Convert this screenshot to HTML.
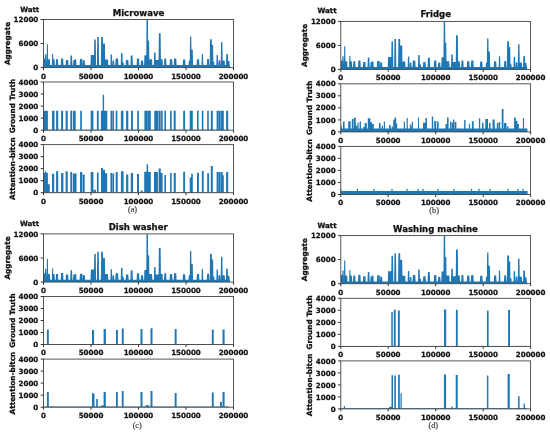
<!DOCTYPE html>
<html><head><meta charset="utf-8"><title>Figure</title>
<style>
html,body{margin:0;padding:0;background:#fff;}
svg{display:block;}
.t{font-family:"DejaVu Sans","Liberation Sans",sans-serif;font-weight:bold;font-size:7.1px;fill:#111;stroke:#111;stroke-width:0.25px;}
.ti{font-family:"DejaVu Sans","Liberation Sans",sans-serif;font-weight:bold;font-size:8.55px;fill:#111;stroke:#111;stroke-width:0.25px;}
.l{font-family:"Liberation Serif","DejaVu Serif",serif;font-size:8.2px;fill:#333;stroke:#333;stroke-width:0.15px;}
</style></head><body>
<svg width="550" height="437" viewBox="0 0 550 437">
<rect width="550" height="437" fill="#fff"/>
<g>
<path fill="#1f77b4" d="M43.6 67.6V65.1H230.0V67.6ZM43.40 65.4L43.75 58.6H46.45L46.80 65.4ZM44.80 67.6L45.10 54.2H46.30L46.60 67.6ZM46.60 67.6L46.88 44.2H47.92L48.20 67.6ZM47.70 65.4L48.05 59.3H49.85L50.20 65.4ZM51.80 67.6L52.08 53.7H53.12L53.40 67.6ZM52.60 65.4L52.95 59.3H54.55L54.90 65.4ZM55.70 65.4L56.05 59.3H57.95L58.30 65.4ZM60.70 65.4L61.05 58.4H63.15L63.50 65.4ZM65.60 65.4L65.95 59.9H68.15L68.50 65.4ZM70.20 65.4L70.55 55.6H72.05L72.40 65.4ZM73.00 65.4L73.35 59.9H76.15L76.50 65.4ZM74.60 65.4L74.95 59.3H76.15L76.50 65.4ZM79.60 65.4L79.95 59.0H82.35L82.70 65.4ZM82.70 65.4L83.05 60.3H84.75L85.10 65.4ZM90.50 65.4L90.85 55.0H94.35L94.70 65.4ZM93.90 67.6L94.24 39.5H95.76L96.10 67.6ZM96.90 67.6L97.24 37.1H98.76L99.10 67.6ZM100.80 67.6L101.17 37.1H102.93L103.30 67.6ZM102.70 67.6L103.08 43.5H104.92L105.30 67.6ZM104.50 65.4L104.85 59.4H107.95L108.30 65.4ZM110.40 67.6L110.71 54.6H111.99L112.30 67.6ZM112.30 65.4L112.65 60.6H114.05L114.40 65.4ZM115.30 65.4L115.65 58.6H118.05L118.40 65.4ZM120.70 67.6L121.03 53.1H122.47L122.80 67.6ZM122.00 65.4L122.35 62.4H123.65L124.00 65.4ZM125.70 65.4L126.05 59.9H128.35L128.70 65.4ZM130.40 65.4L130.75 55.6H132.55L132.90 65.4ZM136.60 65.4L136.95 58.6H139.05L139.40 65.4ZM140.70 65.4L141.05 60.5H143.05L143.40 65.4ZM144.00 67.6L144.39 55.3H146.31L146.70 67.6ZM146.20 67.6L146.53 19.7H147.97L148.30 67.6ZM147.70 67.6L147.99 40.7H149.11L149.40 67.6ZM148.60 65.4L148.95 59.3H152.05L152.40 65.4ZM153.80 67.6L154.13 52.5H155.57L155.90 67.6ZM155.10 65.4L155.45 59.9H158.85L159.20 65.4ZM158.50 67.6L158.87 33.3H160.63L161.00 67.6ZM160.30 65.4L160.65 59.3H162.55L162.90 65.4ZM164.00 65.4L164.35 58.6H166.15L166.50 65.4ZM169.60 65.4L169.95 59.3H172.15L172.50 65.4ZM173.70 65.4L174.05 58.6H176.25L176.60 65.4ZM182.70 65.4L183.05 59.5H185.15L185.50 65.4ZM188.50 65.4L188.85 60.5H190.15L190.50 65.4ZM189.70 67.6L190.01 36.4H191.29L191.60 67.6ZM191.00 67.6L191.33 49.4H192.77L193.10 67.6ZM196.60 65.4L196.95 59.3H199.05L199.40 65.4ZM201.50 67.6L201.80 54.3H203.00L203.30 67.6ZM206.80 65.4L207.15 59.0H208.95L209.30 65.4ZM209.70 67.6L210.07 39.2H211.83L212.20 67.6ZM211.60 67.6L211.90 45.0H213.10L213.40 67.6ZM212.60 65.4L212.95 61.7H214.15L214.50 65.4ZM216.30 67.6L216.61 54.9H217.89L218.20 67.6ZM218.30 65.4L218.65 60.3H220.25L220.60 65.4ZM220.70 67.6L221.02 42.2H222.38L222.70 67.6ZM221.90 65.4L222.25 60.5H224.65L225.00 65.4ZM225.90 67.6L226.25 54.1H227.85L228.20 67.6ZM227.40 65.4L227.75 61.0H229.35L229.70 65.4Z"/>
<rect x="43.5" y="19.5" width="190.0" height="48.1" fill="none" stroke="#444" stroke-width="0.9"/>
<path d="M43.5 67.6v2.5M91.0 67.6v2.5M138.5 67.6v2.5M186.0 67.6v2.5M233.5 67.6v2.5M43.5 67.6h-2.8M43.5 43.5h-2.8M43.5 19.5h-2.8" stroke="#333" stroke-width="1" fill="none"/>
<text class="t" x="43.5" y="78.5" text-anchor="middle">0</text>
<text class="t" x="91.0" y="78.5" text-anchor="middle">50000</text>
<text class="t" x="138.5" y="78.5" text-anchor="middle">100000</text>
<text class="t" x="186.0" y="78.5" text-anchor="middle">150000</text>
<text class="t" x="233.5" y="78.5" text-anchor="middle">200000</text>
<text class="t" x="38.3" y="70.2" text-anchor="end">0</text>
<text class="t" x="38.3" y="46.1" text-anchor="end">6000</text>
<text class="t" x="38.3" y="22.1" text-anchor="end">12000</text>
<text class="t" style="font-size:7.3px" transform="translate(9.7 43.5) rotate(-90)" text-anchor="middle">Aggregate</text>
</g>
<g>
<path fill="#1f77b4" d="M43.6 130.2V129.7H229.0V130.2ZM43.6 130.2V110.8H47.9V130.2ZM52.0 130.2V110.8H54.5V130.2ZM56.1 130.2V110.8H58.2V130.2ZM61.1 130.2V110.8H63.1V130.2ZM65.6 130.2V110.8H67.7V130.2ZM70.3 130.2V110.8H72.0V130.2ZM72.8 130.2V110.8H75.7V130.2ZM80.2 130.2V110.8H81.9V130.2ZM90.7 130.2V110.8H93.4V130.2ZM96.9 130.2V110.8H98.7V130.2ZM100.9 130.2V110.8H107.3V130.2ZM110.5 130.2V110.8H112.2V130.2ZM112.5 130.2V110.8H114.0V130.2ZM115.7 130.2V110.8H117.4V130.2ZM120.9 130.2V110.8H123.4V130.2ZM126.1 130.2V110.8H128.3V130.2ZM131.0 130.2V110.8H132.9V130.2ZM137.2 130.2V110.8H138.9V130.2ZM144.4 130.2V110.8H147.6V130.2ZM147.8 130.2V110.8H150.8V130.2ZM154.3 130.2V110.8H158.2V130.2ZM158.6 130.2V110.8H160.7V130.2ZM161.1 130.2V110.8H162.7V130.2ZM164.4 130.2V110.8H166.0V130.2ZM170.1 130.2V110.8H171.7V130.2ZM173.7 130.2V110.8H175.7V130.2ZM183.2 130.2V110.8H185.1V130.2ZM189.7 130.2V110.8H192.8V130.2ZM197.0 130.2V110.8H198.6V130.2ZM201.8 130.2V110.8H203.4V130.2ZM207.2 130.2V110.8H208.8V130.2ZM210.8 130.2V110.8H212.8V130.2ZM216.6 130.2V110.8H218.3V130.2ZM218.5 130.2V110.8H220.0V130.2ZM220.3 130.2V110.8H223.8V130.2ZM226.1 130.2V110.8H228.2V130.2ZM102.7 130.2V94.7H104.1V130.2Z"/>
<rect x="43.5" y="82.0" width="190.0" height="48.2" fill="none" stroke="#444" stroke-width="0.9"/>
<path d="M43.5 130.2v2.5M91.0 130.2v2.5M138.5 130.2v2.5M186.0 130.2v2.5M233.5 130.2v2.5M43.5 130.2h-2.8M43.5 118.1h-2.8M43.5 106.1h-2.8M43.5 94.0h-2.8M43.5 82.0h-2.8" stroke="#333" stroke-width="1" fill="none"/>
<text class="t" x="43.5" y="141.1" text-anchor="middle">0</text>
<text class="t" x="91.0" y="141.1" text-anchor="middle">50000</text>
<text class="t" x="138.5" y="141.1" text-anchor="middle">100000</text>
<text class="t" x="186.0" y="141.1" text-anchor="middle">150000</text>
<text class="t" x="233.5" y="141.1" text-anchor="middle">200000</text>
<text class="t" x="38.3" y="132.8" text-anchor="end">0</text>
<text class="t" x="38.3" y="120.7" text-anchor="end">1000</text>
<text class="t" x="38.3" y="108.7" text-anchor="end">2000</text>
<text class="t" x="38.3" y="96.6" text-anchor="end">3000</text>
<text class="t" x="38.3" y="84.6" text-anchor="end">4000</text>
<text class="t" style="font-size:7.3px" transform="translate(14.6 106.1) rotate(-90)" text-anchor="middle">Ground Truth</text>
</g>
<g>
<path fill="#1f77b4" d="M43.6 192.7V192.2H229.0V192.7ZM43.6 192.7V172.8H47.9V192.7ZM44.9 192.7V171.3H46.1V192.7ZM47.7 192.7V184.3H49.8V192.7ZM52.0 192.7V173.8H54.2V192.7ZM56.1 192.7V171.3H58.2V192.7ZM61.1 192.7V172.9H63.4V192.7ZM65.6 192.7V171.3H67.7V192.7ZM70.3 192.7V172.1H72.1V192.7ZM72.8 192.7V173.4H76.5V192.7ZM80.0 192.7V172.1H82.3V192.7ZM82.7 192.7V174.6H84.7V192.7ZM90.7 192.7V172.1H93.4V192.7ZM93.6 192.7V189.8H95.9V192.7ZM96.9 192.7V172.5H98.6V192.7ZM101.0 192.7V167.9H102.9V192.7ZM102.7 192.7V169.7H105.0V192.7ZM104.8 192.7V173.3H107.2V192.7ZM110.4 192.7V172.9H112.3V192.7ZM112.6 192.7V173.4H114.1V192.7ZM115.7 192.7V172.1H117.7V192.7ZM120.9 192.7V171.3H123.6V192.7ZM126.1 192.7V174.4H128.3V192.7ZM130.8 192.7V172.9H133.1V192.7ZM137.0 192.7V174.1H139.0V192.7ZM140.7 192.7V190.5H142.7V192.7ZM144.2 192.7V171.7H146.8V192.7ZM146.6 192.7V164.2H148.1V192.7ZM147.9 192.7V172.1H150.8V192.7ZM154.0 192.7V172.1H157.9V192.7ZM158.6 192.7V168.4H160.8V192.7ZM160.7 192.7V173.1H162.6V192.7ZM164.4 192.7V175.0H166.0V192.7ZM170.1 192.7V172.7H171.7V192.7ZM173.7 192.7V173.0H175.8V192.7ZM183.2 192.7V171.8H185.1V192.7ZM189.7 192.7V177.4H191.4V192.7ZM191.2 192.7V173.7H192.8V192.7ZM197.0 192.7V172.7H198.9V192.7ZM201.8 192.7V171.1H203.7V192.7ZM207.2 192.7V173.3H209.1V192.7ZM210.8 192.7V166.0H212.8V192.7ZM216.6 192.7V172.0H218.3V192.7ZM218.5 192.7V172.0H220.0V192.7ZM220.3 192.7V172.0H222.6V192.7ZM222.4 192.7V175.2H223.8V192.7ZM226.1 192.7V172.0H228.2V192.7Z"/>
<rect x="43.5" y="144.6" width="190.0" height="48.1" fill="none" stroke="#444" stroke-width="0.9"/>
<path d="M43.5 192.7v2.5M91.0 192.7v2.5M138.5 192.7v2.5M186.0 192.7v2.5M233.5 192.7v2.5M43.5 192.7h-2.8M43.5 180.7h-2.8M43.5 168.6h-2.8M43.5 156.6h-2.8M43.5 144.6h-2.8" stroke="#333" stroke-width="1" fill="none"/>
<text class="t" x="43.5" y="203.6" text-anchor="middle">0</text>
<text class="t" x="91.0" y="203.6" text-anchor="middle">50000</text>
<text class="t" x="138.5" y="203.6" text-anchor="middle">100000</text>
<text class="t" x="186.0" y="203.6" text-anchor="middle">150000</text>
<text class="t" x="233.5" y="203.6" text-anchor="middle">200000</text>
<text class="t" x="38.3" y="195.3" text-anchor="end">0</text>
<text class="t" x="38.3" y="183.3" text-anchor="end">1000</text>
<text class="t" x="38.3" y="171.2" text-anchor="end">2000</text>
<text class="t" x="38.3" y="159.2" text-anchor="end">3000</text>
<text class="t" x="38.3" y="147.2" text-anchor="end">4000</text>
<text class="t" style="font-size:7.3px" transform="translate(14.6 168.6) rotate(-90)" text-anchor="middle">Attention-bitcn</text>
</g>
<g>
<path fill="#1f77b4" d="M340.9 69.4V67.1H527.1V69.4ZM340.70 67.2L341.05 60.6H343.75L344.10 67.2ZM342.10 69.4L342.40 56.2H343.60L343.90 69.4ZM343.90 69.4L344.18 46.2H345.22L345.50 69.4ZM345.00 67.2L345.35 61.3H347.14L347.49 67.2ZM349.09 69.4L349.37 55.7H350.41L350.69 69.4ZM349.89 67.2L350.24 61.3H351.84L352.19 67.2ZM352.99 67.2L353.34 61.3H355.23L355.58 67.2ZM357.98 67.2L358.33 60.4H360.43L360.78 67.2ZM362.88 67.2L363.23 61.9H365.42L365.77 67.2ZM367.47 67.2L367.82 57.6H369.32L369.67 67.2ZM370.27 67.2L370.62 61.9H373.42L373.77 67.2ZM371.87 67.2L372.22 61.3H373.42L373.77 67.2ZM376.86 67.2L377.21 61.0H379.61L379.96 67.2ZM379.96 67.2L380.31 62.3H382.01L382.36 67.2ZM387.75 67.2L388.10 57.0H391.60L391.95 67.2ZM391.15 69.4L391.49 41.5H393.00L393.34 69.4ZM394.14 69.4L394.48 39.1H396.00L396.34 69.4ZM398.04 69.4L398.41 39.1H400.17L400.54 69.4ZM399.94 69.4L400.32 45.5H402.16L402.54 69.4ZM401.74 67.2L402.09 61.4H405.18L405.53 67.2ZM407.63 69.4L407.94 56.6H409.22L409.53 69.4ZM409.53 67.2L409.88 62.6H411.28L411.63 67.2ZM412.52 67.2L412.87 60.6H415.27L415.62 67.2ZM417.92 69.4L418.25 55.1H419.69L420.02 69.4ZM419.22 67.2L419.57 64.4H420.87L421.22 67.2ZM422.91 67.2L423.26 61.9H425.56L425.91 67.2ZM427.61 67.2L427.96 57.6H429.76L430.11 67.2ZM433.80 67.2L434.15 60.6H436.25L436.60 67.2ZM437.90 67.2L438.25 62.5H440.25L440.60 67.2ZM441.19 69.4L441.58 57.3H443.50L443.89 69.4ZM443.39 69.4L443.72 21.7H445.16L445.49 69.4ZM444.89 69.4L445.18 42.7H446.30L446.59 69.4ZM445.79 67.2L446.14 61.3H449.24L449.59 67.2ZM450.98 69.4L451.31 54.5H452.75L453.08 69.4ZM452.28 67.2L452.63 61.9H456.03L456.38 67.2ZM455.68 69.4L456.05 35.3H457.81L458.18 69.4ZM457.48 67.2L457.83 61.3H459.72L460.07 67.2ZM461.17 67.2L461.52 60.6H463.32L463.67 67.2ZM466.77 67.2L467.12 61.3H469.31L469.66 67.2ZM470.86 67.2L471.21 60.6H473.41L473.76 67.2ZM479.85 67.2L480.20 61.5H482.30L482.65 67.2ZM485.65 67.2L486.00 62.5H487.30L487.65 67.2ZM486.85 69.4L487.16 38.4H488.43L488.74 69.4ZM488.14 69.4L488.47 51.4H489.91L490.24 69.4ZM493.74 67.2L494.09 61.3H496.19L496.54 67.2ZM498.63 69.4L498.93 56.3H500.13L500.43 69.4ZM503.93 67.2L504.28 61.0H506.08L506.43 67.2ZM506.82 69.4L507.19 41.2H508.95L509.32 69.4ZM508.72 69.4L509.02 47.0H510.22L510.52 69.4ZM509.72 67.2L510.07 63.7H511.27L511.62 67.2ZM513.42 69.4L513.73 56.9H515.01L515.32 69.4ZM515.42 67.2L515.77 62.3H517.36L517.71 67.2ZM517.81 69.4L518.13 44.2H519.49L519.81 69.4ZM519.01 67.2L519.36 62.5H521.76L522.11 67.2ZM523.01 69.4L523.36 56.1H524.96L525.31 69.4ZM524.51 67.2L524.86 63.0H526.45L526.80 67.2Z"/>
<rect x="340.8" y="21.4" width="189.8" height="48.0" fill="none" stroke="#444" stroke-width="0.9"/>
<path d="M340.8 69.4v2.5M388.2 69.4v2.5M435.7 69.4v2.5M483.2 69.4v2.5M530.6 69.4v2.5M340.8 69.4h-2.8M340.8 45.4h-2.8M340.8 21.4h-2.8" stroke="#333" stroke-width="1" fill="none"/>
<text class="t" x="340.8" y="80.3" text-anchor="middle">0</text>
<text class="t" x="388.2" y="80.3" text-anchor="middle">50000</text>
<text class="t" x="435.7" y="80.3" text-anchor="middle">100000</text>
<text class="t" x="483.2" y="80.3" text-anchor="middle">150000</text>
<text class="t" x="530.6" y="80.3" text-anchor="middle">200000</text>
<text class="t" x="335.6" y="72.0" text-anchor="end">0</text>
<text class="t" x="335.6" y="48.0" text-anchor="end">6000</text>
<text class="t" x="335.6" y="24.0" text-anchor="end">12000</text>
<text class="t" style="font-size:7.3px" transform="translate(306.7 45.4) rotate(-90)" text-anchor="middle">Aggregate</text>
</g>
<g>
<path fill="#1f77b4" d="M340.6 131.9V128.6H527.4V131.9ZM340.6 131.9V125.8H341.6V131.9ZM343.0 131.9V121.4H344.6V131.9ZM348.2 131.9V121.2H350.6V131.9ZM351.8 131.9V119.0H353.2V131.9ZM353.6 131.9V117.8H355.8V131.9ZM355.8 131.9V125.8H357.2V131.9ZM357.4 131.9V122.8H358.6V131.9ZM359.6 131.9V121.6H361.0V131.9ZM363.2 131.9V127.0H364.6V131.9ZM364.6 131.9V123.0H366.8V131.9ZM367.8 131.9V118.2H370.4V131.9ZM370.4 131.9V122.2H372.0V131.9ZM372.0 131.9V124.0H373.8V131.9ZM379.0 131.9V123.0H380.6V131.9ZM381.8 131.9V125.8H383.0V131.9ZM383.8 131.9V121.6H385.0V131.9ZM389.0 131.9V125.2H390.8V131.9ZM391.8 131.9V126.6H393.0V131.9ZM393.2 131.9V119.8H394.6V131.9ZM394.6 131.9V117.4H396.2V131.9ZM396.2 131.9V123.5H397.2V131.9ZM403.8 131.9V121.4H405.0V131.9ZM406.6 131.9V118.0H407.8V131.9ZM409.8 131.9V124.6H411.4V131.9ZM411.8 131.9V121.8H413.0V131.9ZM418.0 131.9V117.2H419.0V131.9ZM423.0 131.9V122.8H425.4V131.9ZM425.4 131.9V118.0H427.0V131.9ZM431.8 131.9V116.6H433.2V131.9ZM434.2 131.9V121.0H436.2V131.9ZM437.0 131.9V121.6H438.6V131.9ZM445.5 131.9V124.0H447.0V131.9ZM447.0 131.9V117.4H448.6V131.9ZM450.0 131.9V121.6H451.4V131.9ZM451.8 131.9V122.8H453.0V131.9ZM453.0 131.9V119.4H454.4V131.9ZM454.8 131.9V121.9H456.4V131.9ZM464.1 131.9V120.1H465.5V131.9ZM468.9 131.9V123.9H470.1V131.9ZM471.9 131.9V121.3H473.7V131.9ZM478.9 131.9V118.3H480.2V131.9ZM482.0 131.9V122.7H483.5V131.9ZM485.3 131.9V119.1H488.0V131.9ZM489.0 131.9V123.1H490.5V131.9ZM492.5 131.9V119.4H494.7V131.9ZM496.8 131.9V123.1H498.3V131.9ZM498.7 131.9V122.1H500.2V131.9ZM501.7 131.9V108.9H503.5V131.9ZM504.0 131.9V123.1H506.5V131.9ZM507.0 131.9V126.5H508.4V131.9ZM514.1 131.9V117.6H515.9V131.9ZM515.9 131.9V120.9H517.4V131.9ZM517.4 131.9V123.9H518.9V131.9ZM522.9 131.9V118.3H524.1V131.9Z"/>
<rect x="340.8" y="83.8" width="189.8" height="48.1" fill="none" stroke="#444" stroke-width="0.9"/>
<path d="M340.8 131.9v2.5M388.2 131.9v2.5M435.7 131.9v2.5M483.2 131.9v2.5M530.6 131.9v2.5M340.8 131.9h-2.8M340.8 119.9h-2.8M340.8 107.8h-2.8M340.8 95.8h-2.8M340.8 83.8h-2.8" stroke="#333" stroke-width="1" fill="none"/>
<text class="t" x="340.8" y="142.8" text-anchor="middle">0</text>
<text class="t" x="388.2" y="142.8" text-anchor="middle">50000</text>
<text class="t" x="435.7" y="142.8" text-anchor="middle">100000</text>
<text class="t" x="483.2" y="142.8" text-anchor="middle">150000</text>
<text class="t" x="530.6" y="142.8" text-anchor="middle">200000</text>
<text class="t" x="335.6" y="134.5" text-anchor="end">0</text>
<text class="t" x="335.6" y="122.5" text-anchor="end">1000</text>
<text class="t" x="335.6" y="110.4" text-anchor="end">2000</text>
<text class="t" x="335.6" y="98.4" text-anchor="end">3000</text>
<text class="t" x="335.6" y="86.4" text-anchor="end">4000</text>
<text class="t" style="font-size:7.3px" transform="translate(311.6 107.8) rotate(-90)" text-anchor="middle">Ground Truth</text>
</g>
<g>
<path fill="#1f77b4" d="M340.6 194.5V191.0H527.6V194.5ZM340.6 194.5V189.0H341.4V194.5ZM356.8 194.5V188.8H358.0V194.5ZM373.4 194.5V188.8H374.6V194.5ZM391.4 194.5V188.8H392.6V194.5ZM406.4 194.5V188.8H407.6V194.5ZM417.4 194.5V188.8H418.6V194.5ZM422.4 194.5V188.8H423.6V194.5ZM437.4 194.5V188.8H438.6V194.5ZM453.4 194.5V188.8H454.6V194.5ZM471.0 194.5V188.8H472.2V194.5ZM478.4 194.5V188.8H479.6V194.5ZM489.4 194.5V188.8H490.6V194.5ZM507.4 194.5V188.8H508.6V194.5ZM517.4 194.5V188.8H518.6V194.5ZM522.4 194.5V188.8H523.6V194.5Z"/>
<rect x="340.8" y="146.4" width="189.8" height="48.1" fill="none" stroke="#444" stroke-width="0.9"/>
<path d="M340.8 194.5v2.5M388.2 194.5v2.5M435.7 194.5v2.5M483.2 194.5v2.5M530.6 194.5v2.5M340.8 194.5h-2.8M340.8 182.5h-2.8M340.8 170.4h-2.8M340.8 158.4h-2.8M340.8 146.4h-2.8" stroke="#333" stroke-width="1" fill="none"/>
<text class="t" x="340.8" y="205.4" text-anchor="middle">0</text>
<text class="t" x="388.2" y="205.4" text-anchor="middle">50000</text>
<text class="t" x="435.7" y="205.4" text-anchor="middle">100000</text>
<text class="t" x="483.2" y="205.4" text-anchor="middle">150000</text>
<text class="t" x="530.6" y="205.4" text-anchor="middle">200000</text>
<text class="t" x="335.6" y="197.1" text-anchor="end">0</text>
<text class="t" x="335.6" y="185.1" text-anchor="end">1000</text>
<text class="t" x="335.6" y="173.0" text-anchor="end">2000</text>
<text class="t" x="335.6" y="161.0" text-anchor="end">3000</text>
<text class="t" x="335.6" y="149.0" text-anchor="end">4000</text>
<text class="t" style="font-size:7.3px" transform="translate(311.6 170.4) rotate(-90)" text-anchor="middle">Attention-bitcn</text>
</g>
<g>
<path fill="#1f77b4" d="M43.6 282.1V279.8H230.0V282.1ZM43.40 279.9L43.75 273.3H46.45L46.80 279.9ZM44.80 282.1L45.10 268.8H46.30L46.60 282.1ZM46.60 282.1L46.88 258.8H47.92L48.20 282.1ZM47.70 279.9L48.05 274.0H49.85L50.20 279.9ZM51.80 282.1L52.08 268.3H53.12L53.40 282.1ZM52.60 279.9L52.95 274.0H54.55L54.90 279.9ZM55.70 279.9L56.05 274.0H57.95L58.30 279.9ZM60.70 279.9L61.05 273.1H63.15L63.50 279.9ZM65.60 279.9L65.95 274.6H68.15L68.50 279.9ZM70.20 279.9L70.55 270.3H72.05L72.40 279.9ZM73.00 279.9L73.35 274.6H76.15L76.50 279.9ZM74.60 279.9L74.95 274.0H76.15L76.50 279.9ZM79.60 279.9L79.95 273.7H82.35L82.70 279.9ZM82.70 279.9L83.05 275.0H84.75L85.10 279.9ZM90.50 279.9L90.85 269.6H94.35L94.70 279.9ZM93.90 282.1L94.24 254.1H95.76L96.10 282.1ZM96.90 282.1L97.24 251.7H98.76L99.10 282.1ZM100.80 282.1L101.17 251.7H102.93L103.30 282.1ZM102.70 282.1L103.08 258.1H104.92L105.30 282.1ZM104.50 279.9L104.85 274.1H107.95L108.30 279.9ZM110.40 282.1L110.71 269.2H111.99L112.30 282.1ZM112.30 279.9L112.65 275.3H114.05L114.40 279.9ZM115.30 279.9L115.65 273.3H118.05L118.40 279.9ZM120.70 282.1L121.03 267.7H122.47L122.80 282.1ZM122.00 279.9L122.35 277.1H123.65L124.00 279.9ZM125.70 279.9L126.05 274.6H128.35L128.70 279.9ZM130.40 279.9L130.75 270.3H132.55L132.90 279.9ZM136.60 279.9L136.95 273.3H139.05L139.40 279.9ZM140.70 279.9L141.05 275.2H143.05L143.40 279.9ZM144.00 282.1L144.39 269.9H146.31L146.70 282.1ZM146.20 282.1L146.53 234.2H147.97L148.30 282.1ZM147.70 282.1L147.99 255.3H149.11L149.40 282.1ZM148.60 279.9L148.95 274.0H152.05L152.40 279.9ZM153.80 282.1L154.13 267.1H155.57L155.90 282.1ZM155.10 279.9L155.45 274.6H158.85L159.20 279.9ZM158.50 282.1L158.87 247.9H160.63L161.00 282.1ZM160.30 279.9L160.65 274.0H162.55L162.90 279.9ZM164.00 279.9L164.35 273.3H166.15L166.50 279.9ZM169.60 279.9L169.95 274.0H172.15L172.50 279.9ZM173.70 279.9L174.05 273.3H176.25L176.60 279.9ZM182.70 279.9L183.05 274.2H185.15L185.50 279.9ZM188.50 279.9L188.85 275.2H190.15L190.50 279.9ZM189.70 282.1L190.01 251.0H191.29L191.60 282.1ZM191.00 282.1L191.33 264.0H192.77L193.10 282.1ZM196.60 279.9L196.95 274.0H199.05L199.40 279.9ZM201.50 282.1L201.80 268.9H203.00L203.30 282.1ZM206.80 279.9L207.15 273.7H208.95L209.30 279.9ZM209.70 282.1L210.07 253.8H211.83L212.20 282.1ZM211.60 282.1L211.90 259.6H213.10L213.40 282.1ZM212.60 279.9L212.95 276.4H214.15L214.50 279.9ZM216.30 282.1L216.61 269.5H217.89L218.20 282.1ZM218.30 279.9L218.65 275.0H220.25L220.60 279.9ZM220.70 282.1L221.02 256.8H222.38L222.70 282.1ZM221.90 279.9L222.25 275.2H224.65L225.00 279.9ZM225.90 282.1L226.25 268.7H227.85L228.20 282.1ZM227.40 279.9L227.75 275.7H229.35L229.70 279.9Z"/>
<rect x="43.5" y="233.9" width="190.0" height="48.2" fill="none" stroke="#444" stroke-width="0.9"/>
<path d="M43.5 282.1v2.5M91.0 282.1v2.5M138.5 282.1v2.5M186.0 282.1v2.5M233.5 282.1v2.5M43.5 282.1h-2.8M43.5 258.0h-2.8M43.5 233.9h-2.8" stroke="#333" stroke-width="1" fill="none"/>
<text class="t" x="43.5" y="293.0" text-anchor="middle">0</text>
<text class="t" x="91.0" y="293.0" text-anchor="middle">50000</text>
<text class="t" x="138.5" y="293.0" text-anchor="middle">100000</text>
<text class="t" x="186.0" y="293.0" text-anchor="middle">150000</text>
<text class="t" x="233.5" y="293.0" text-anchor="middle">200000</text>
<text class="t" x="38.3" y="284.7" text-anchor="end">0</text>
<text class="t" x="38.3" y="260.6" text-anchor="end">6000</text>
<text class="t" x="38.3" y="236.5" text-anchor="end">12000</text>
<text class="t" style="font-size:7.3px" transform="translate(9.7 258.0) rotate(-90)" text-anchor="middle">Aggregate</text>
</g>
<g>
<path fill="#1f77b4" d="M43.6 344.5V343.9H229.0V344.5ZM46.9 344.5V329.6H48.8V344.5ZM92.0 344.5V330.0H94.1V344.5ZM103.6 344.5V329.1H105.9V344.5ZM116.0 344.5V330.0H117.9V344.5ZM121.8 344.5V328.5H123.7V344.5ZM140.5 344.5V329.1H142.5V344.5ZM150.5 344.5V328.2H152.5V344.5ZM174.7 344.5V329.1H176.6V344.5ZM211.8 344.5V329.6H213.7V344.5ZM222.5 344.5V329.6H224.6V344.5Z"/>
<rect x="43.5" y="296.5" width="190.0" height="48.0" fill="none" stroke="#444" stroke-width="0.9"/>
<path d="M43.5 344.5v2.5M91.0 344.5v2.5M138.5 344.5v2.5M186.0 344.5v2.5M233.5 344.5v2.5M43.5 344.5h-2.8M43.5 332.5h-2.8M43.5 320.5h-2.8M43.5 308.5h-2.8M43.5 296.5h-2.8" stroke="#333" stroke-width="1" fill="none"/>
<text class="t" x="43.5" y="355.4" text-anchor="middle">0</text>
<text class="t" x="91.0" y="355.4" text-anchor="middle">50000</text>
<text class="t" x="138.5" y="355.4" text-anchor="middle">100000</text>
<text class="t" x="186.0" y="355.4" text-anchor="middle">150000</text>
<text class="t" x="233.5" y="355.4" text-anchor="middle">200000</text>
<text class="t" x="38.3" y="347.1" text-anchor="end">0</text>
<text class="t" x="38.3" y="335.1" text-anchor="end">1000</text>
<text class="t" x="38.3" y="323.1" text-anchor="end">2000</text>
<text class="t" x="38.3" y="311.1" text-anchor="end">3000</text>
<text class="t" x="38.3" y="299.1" text-anchor="end">4000</text>
<text class="t" style="font-size:7.3px" transform="translate(14.6 320.5) rotate(-90)" text-anchor="middle">Ground Truth</text>
</g>
<g>
<path fill="#1f77b4" d="M43.6 407.2V406.6H229.0V407.2ZM46.9 407.2V392.0H48.8V407.2ZM51.3 407.2V406.0H52.8V407.2ZM92.0 407.2V392.9H93.3V407.2ZM93.3 407.2V393.8H94.5V407.2ZM96.2 407.2V398.9H97.8V407.2ZM100.9 407.2V405.6H103.6V407.2ZM103.6 407.2V392.0H105.8V407.2ZM116.0 407.2V392.0H117.8V407.2ZM121.8 407.2V391.1H123.6V407.2ZM140.5 407.2V392.0H142.5V407.2ZM145.5 407.2V405.3H149.1V407.2ZM150.5 407.2V391.1H152.5V407.2ZM174.7 407.2V392.9H176.6V407.2ZM211.8 407.2V392.4H213.7V407.2ZM220.0 407.2V402.0H221.9V407.2ZM222.5 407.2V392.0H224.6V407.2Z"/>
<rect x="43.5" y="359.1" width="190.0" height="48.1" fill="none" stroke="#444" stroke-width="0.9"/>
<path d="M43.5 407.2v2.5M91.0 407.2v2.5M138.5 407.2v2.5M186.0 407.2v2.5M233.5 407.2v2.5M43.5 407.2h-2.8M43.5 395.2h-2.8M43.5 383.1h-2.8M43.5 371.1h-2.8M43.5 359.1h-2.8" stroke="#333" stroke-width="1" fill="none"/>
<text class="t" x="43.5" y="418.1" text-anchor="middle">0</text>
<text class="t" x="91.0" y="418.1" text-anchor="middle">50000</text>
<text class="t" x="138.5" y="418.1" text-anchor="middle">100000</text>
<text class="t" x="186.0" y="418.1" text-anchor="middle">150000</text>
<text class="t" x="233.5" y="418.1" text-anchor="middle">200000</text>
<text class="t" x="38.3" y="409.8" text-anchor="end">0</text>
<text class="t" x="38.3" y="397.8" text-anchor="end">1000</text>
<text class="t" x="38.3" y="385.8" text-anchor="end">2000</text>
<text class="t" x="38.3" y="373.7" text-anchor="end">3000</text>
<text class="t" x="38.3" y="361.7" text-anchor="end">4000</text>
<text class="t" style="font-size:7.3px" transform="translate(14.6 383.1) rotate(-90)" text-anchor="middle">Attention-bitcn</text>
</g>
<g>
<path fill="#1f77b4" d="M340.9 283.7V281.4H527.1V283.7ZM340.70 281.5L341.05 274.9H343.75L344.10 281.5ZM342.10 283.7L342.40 270.5H343.60L343.90 283.7ZM343.90 283.7L344.18 260.5H345.22L345.50 283.7ZM345.00 281.5L345.35 275.6H347.14L347.49 281.5ZM349.09 283.7L349.37 270.0H350.41L350.69 283.7ZM349.89 281.5L350.24 275.6H351.84L352.19 281.5ZM352.99 281.5L353.34 275.6H355.23L355.58 281.5ZM357.98 281.5L358.33 274.7H360.43L360.78 281.5ZM362.88 281.5L363.23 276.2H365.42L365.77 281.5ZM367.47 281.5L367.82 271.9H369.32L369.67 281.5ZM370.27 281.5L370.62 276.2H373.42L373.77 281.5ZM371.87 281.5L372.22 275.6H373.42L373.77 281.5ZM376.86 281.5L377.21 275.3H379.61L379.96 281.5ZM379.96 281.5L380.31 276.6H382.01L382.36 281.5ZM387.75 281.5L388.10 271.3H391.60L391.95 281.5ZM391.15 283.7L391.49 255.7H393.00L393.34 283.7ZM394.14 283.7L394.48 253.3H396.00L396.34 283.7ZM398.04 283.7L398.41 253.3H400.17L400.54 283.7ZM399.94 283.7L400.32 259.8H402.16L402.54 283.7ZM401.74 281.5L402.09 275.7H405.18L405.53 281.5ZM407.63 283.7L407.94 270.9H409.22L409.53 283.7ZM409.53 281.5L409.88 276.9H411.28L411.63 281.5ZM412.52 281.5L412.87 274.9H415.27L415.62 281.5ZM417.92 283.7L418.25 269.4H419.69L420.02 283.7ZM419.22 281.5L419.57 278.7H420.87L421.22 281.5ZM422.91 281.5L423.26 276.2H425.56L425.91 281.5ZM427.61 281.5L427.96 271.9H429.76L430.11 281.5ZM433.80 281.5L434.15 274.9H436.25L436.60 281.5ZM437.90 281.5L438.25 276.8H440.25L440.60 281.5ZM441.19 283.7L441.58 271.6H443.50L443.89 283.7ZM443.39 283.7L443.72 235.9H445.16L445.49 283.7ZM444.89 283.7L445.18 256.9H446.30L446.59 283.7ZM445.79 281.5L446.14 275.6H449.24L449.59 281.5ZM450.98 283.7L451.31 268.8H452.75L453.08 283.7ZM452.28 281.5L452.63 276.2H456.03L456.38 281.5ZM455.68 283.7L456.05 249.5H457.81L458.18 283.7ZM457.48 281.5L457.83 275.6H459.72L460.07 281.5ZM461.17 281.5L461.52 274.9H463.32L463.67 281.5ZM466.77 281.5L467.12 275.6H469.31L469.66 281.5ZM470.86 281.5L471.21 274.9H473.41L473.76 281.5ZM479.85 281.5L480.20 275.8H482.30L482.65 281.5ZM485.65 281.5L486.00 276.8H487.30L487.65 281.5ZM486.85 283.7L487.16 252.6H488.43L488.74 283.7ZM488.14 283.7L488.47 265.7H489.91L490.24 283.7ZM493.74 281.5L494.09 275.6H496.19L496.54 281.5ZM498.63 283.7L498.93 270.6H500.13L500.43 283.7ZM503.93 281.5L504.28 275.3H506.08L506.43 281.5ZM506.82 283.7L507.19 255.4H508.95L509.32 283.7ZM508.72 283.7L509.02 261.3H510.22L510.52 283.7ZM509.72 281.5L510.07 278.0H511.27L511.62 281.5ZM513.42 283.7L513.73 271.2H515.01L515.32 283.7ZM515.42 281.5L515.77 276.6H517.36L517.71 281.5ZM517.81 283.7L518.13 258.4H519.49L519.81 283.7ZM519.01 281.5L519.36 276.8H521.76L522.11 281.5ZM523.01 283.7L523.36 270.4H524.96L525.31 283.7ZM524.51 281.5L524.86 277.3H526.45L526.80 281.5Z"/>
<rect x="340.8" y="235.6" width="189.8" height="48.1" fill="none" stroke="#444" stroke-width="0.9"/>
<path d="M340.8 283.7v2.5M388.2 283.7v2.5M435.7 283.7v2.5M483.2 283.7v2.5M530.6 283.7v2.5M340.8 283.7h-2.8M340.8 259.6h-2.8M340.8 235.6h-2.8" stroke="#333" stroke-width="1" fill="none"/>
<text class="t" x="340.8" y="294.6" text-anchor="middle">0</text>
<text class="t" x="388.2" y="294.6" text-anchor="middle">50000</text>
<text class="t" x="435.7" y="294.6" text-anchor="middle">100000</text>
<text class="t" x="483.2" y="294.6" text-anchor="middle">150000</text>
<text class="t" x="530.6" y="294.6" text-anchor="middle">200000</text>
<text class="t" x="335.6" y="286.3" text-anchor="end">0</text>
<text class="t" x="335.6" y="262.2" text-anchor="end">6000</text>
<text class="t" x="335.6" y="238.2" text-anchor="end">12000</text>
<text class="t" style="font-size:7.3px" transform="translate(306.7 259.6) rotate(-90)" text-anchor="middle">Aggregate</text>
</g>
<g>
<path fill="#1f77b4" d="M340.6 346.4V345.9H527.0V346.4ZM391.3 346.4V312.0H392.8V346.4ZM393.8 346.4V309.8H395.7V346.4ZM397.9 346.4V310.5H399.8V346.4ZM444.0 346.4V309.4H446.2V346.4ZM455.9 346.4V309.8H457.7V346.4ZM487.0 346.4V310.5H488.6V346.4ZM508.1 346.4V310.1H510.0V346.4Z"/>
<rect x="340.8" y="298.3" width="189.8" height="48.1" fill="none" stroke="#444" stroke-width="0.9"/>
<path d="M340.8 346.4v2.5M388.2 346.4v2.5M435.7 346.4v2.5M483.2 346.4v2.5M530.6 346.4v2.5M340.8 346.4h-2.8M340.8 334.4h-2.8M340.8 322.4h-2.8M340.8 310.3h-2.8M340.8 298.3h-2.8" stroke="#333" stroke-width="1" fill="none"/>
<text class="t" x="340.8" y="357.3" text-anchor="middle">0</text>
<text class="t" x="388.2" y="357.3" text-anchor="middle">50000</text>
<text class="t" x="435.7" y="357.3" text-anchor="middle">100000</text>
<text class="t" x="483.2" y="357.3" text-anchor="middle">150000</text>
<text class="t" x="530.6" y="357.3" text-anchor="middle">200000</text>
<text class="t" x="335.6" y="349.0" text-anchor="end">0</text>
<text class="t" x="335.6" y="337.0" text-anchor="end">1000</text>
<text class="t" x="335.6" y="325.0" text-anchor="end">2000</text>
<text class="t" x="335.6" y="312.9" text-anchor="end">3000</text>
<text class="t" x="335.6" y="300.9" text-anchor="end">4000</text>
<text class="t" style="font-size:7.3px" transform="translate(311.6 322.4) rotate(-90)" text-anchor="middle">Ground Truth</text>
</g>
<g>
<path fill="#1f77b4" d="M340.6 408.9V408.3H527.0V408.9ZM343.8 408.9V406.0H345.0V408.9ZM389.2 408.9V406.7H391.5V408.9ZM391.5 408.9V375.2H393.0V408.9ZM394.3 408.9V375.5H395.9V408.9ZM398.1 408.9V374.7H399.8V408.9ZM400.5 408.9V393.2H401.7V408.9ZM443.9 408.9V374.4H446.1V408.9ZM451.3 408.9V406.4H452.7V408.9ZM455.7 408.9V375.0H457.7V408.9ZM486.9 408.9V375.5H488.4V408.9ZM507.6 408.9V373.9H509.8V408.9ZM518.1 408.9V396.2H519.6V408.9ZM523.6 408.9V403.4H524.9V408.9Z"/>
<rect x="340.8" y="360.9" width="189.8" height="48.0" fill="none" stroke="#444" stroke-width="0.9"/>
<path d="M340.8 408.9v2.5M388.2 408.9v2.5M435.7 408.9v2.5M483.2 408.9v2.5M530.6 408.9v2.5M340.8 408.9h-2.8M340.8 396.9h-2.8M340.8 384.9h-2.8M340.8 372.9h-2.8M340.8 360.9h-2.8" stroke="#333" stroke-width="1" fill="none"/>
<text class="t" x="340.8" y="419.8" text-anchor="middle">0</text>
<text class="t" x="388.2" y="419.8" text-anchor="middle">50000</text>
<text class="t" x="435.7" y="419.8" text-anchor="middle">100000</text>
<text class="t" x="483.2" y="419.8" text-anchor="middle">150000</text>
<text class="t" x="530.6" y="419.8" text-anchor="middle">200000</text>
<text class="t" x="335.6" y="411.5" text-anchor="end">0</text>
<text class="t" x="335.6" y="399.5" text-anchor="end">1000</text>
<text class="t" x="335.6" y="387.5" text-anchor="end">2000</text>
<text class="t" x="335.6" y="375.5" text-anchor="end">3000</text>
<text class="t" x="335.6" y="363.5" text-anchor="end">4000</text>
<text class="t" style="font-size:7.3px" transform="translate(311.6 384.9) rotate(-90)" text-anchor="middle">Attention-bitcn</text>
</g>
<text class="ti" x="138.5" y="15.8" text-anchor="middle">Microwave</text>
<text class="l" x="132.5" y="212.0" text-anchor="middle">(a)</text>
<text class="t" x="29.7" y="11.6" text-anchor="middle">Watt</text>
<text class="ti" x="435.8" y="17.4" text-anchor="middle">Fridge</text>
<text class="l" x="434.1" y="212.9" text-anchor="middle">(b)</text>
<text class="t" x="327.0" y="13.0" text-anchor="middle">Watt</text>
<text class="ti" x="138.2" y="229.8" text-anchor="middle">Dish washer</text>
<text class="l" x="137.2" y="427.5" text-anchor="middle">(c)</text>
<text class="t" x="29.6" y="226.2" text-anchor="middle">Watt</text>
<text class="ti" x="435.5" y="231.6" text-anchor="middle">Washing machine</text>
<text class="l" x="433.3" y="427.6" text-anchor="middle">(d)</text>
<text class="t" x="327.0" y="227.6" text-anchor="middle">Watt</text>
</svg>
</body></html>
